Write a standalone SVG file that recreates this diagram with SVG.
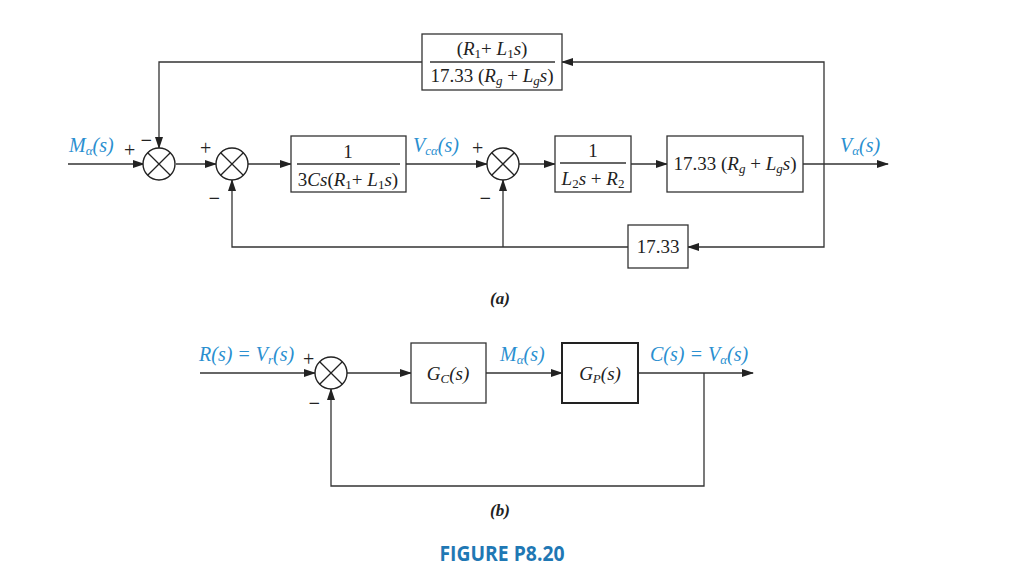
<svg xmlns="http://www.w3.org/2000/svg" width="1024" height="577" viewBox="0 0 1024 577">
<defs>
<marker id="arr" markerWidth="12" markerHeight="8" refX="11" refY="4" orient="auto" markerUnits="userSpaceOnUse">
<path d="M0,0 L12,4 L0,8 Z" fill="#222"/>
</marker>
</defs>
<style>
.ln{fill:none;stroke:#333;stroke-width:1.3}
.box{fill:#fff;stroke:#333;stroke-width:1.3}
.boxb{fill:#fff;stroke:#222;stroke-width:2}
.sum{fill:#fff;stroke:#222;stroke-width:1.4}
.x{stroke:#222;stroke-width:1.3}
.t{font-family:"Liberation Serif",serif;font-size:19px;fill:#222}
.i{font-style:italic}
.b{font-family:"Liberation Serif",serif;font-size:20px;font-style:italic;fill:#2a8fd0}
.s{font-family:"Liberation Serif",serif;font-size:20px;fill:#222}
.m{font-family:"DejaVu Sans",sans-serif;font-size:15px;fill:#222}
.cap{font-family:"Liberation Serif",serif;font-size:17px;font-style:italic;font-weight:bold;fill:#222}
.fig{font-family:"Open Sans","Liberation Sans",sans-serif;font-size:22px;font-weight:bold;fill:#1f78b4}
</style>

<g id="connectors">
<path class="ln" d="M68,164 H144" marker-end="url(#arr)"/>
<path class="ln" d="M176,164 H216" marker-end="url(#arr)"/>
<path class="ln" d="M248,164 H291" marker-end="url(#arr)"/>
<path class="ln" d="M406,164 H487" marker-end="url(#arr)"/>
<path class="ln" d="M519,164 H555" marker-end="url(#arr)"/>
<path class="ln" d="M631,164 H667" marker-end="url(#arr)"/>
<path class="ln" d="M803,164 H888" marker-end="url(#arr)"/>
<path class="ln" d="M824,164 V62 H562" marker-end="url(#arr)"/>
<path class="ln" d="M422,62 H159 V148" marker-end="url(#arr)"/>
<path class="ln" d="M824,164 V247 H688" marker-end="url(#arr)"/>
<path class="ln" d="M628,247 H232 V180" marker-end="url(#arr)"/>
<path class="ln" d="M503,247 V180" marker-end="url(#arr)"/>
<path class="ln" d="M200,373 H315" marker-end="url(#arr)"/>
<path class="ln" d="M347,373 H411" marker-end="url(#arr)"/>
<path class="ln" d="M486,373 H562" marker-end="url(#arr)"/>
<path class="ln" d="M638,373 H753" marker-end="url(#arr)"/>
<path class="ln" d="M704,373 V486 H331 V389" marker-end="url(#arr)"/>
</g>

<g id="sum1">
<circle class="sum" cx="159" cy="164" r="16"/>
<path class="x" d="M147.7,152.7 L170.3,175.3 M170.3,152.7 L147.7,175.3"/>
<text class="s" x="124" y="157">+</text>
<text class="m" x="140" y="145">−</text>
</g>
<g id="sum2">
<circle class="sum" cx="232" cy="164" r="16"/>
<path class="x" d="M220.7,152.7 L243.3,175.3 M243.3,152.7 L220.7,175.3"/>
<text class="s" x="200" y="155">+</text>
<text class="m" x="208" y="203">−</text>
</g>
<g id="sum3">
<circle class="sum" cx="503" cy="164" r="16"/>
<path class="x" d="M491.7,152.7 L514.3,175.3 M514.3,152.7 L491.7,175.3"/>
<text class="s" x="472" y="155">+</text>
<text class="m" x="479" y="203">−</text>
</g>

<g id="labels-a">
<text class="b" x="69" y="152">M<tspan font-size="13" dy="3">α</tspan><tspan dy="-3">(s)</tspan></text>
<text class="b" x="413" y="152">V<tspan font-size="13" dy="3">cα</tspan><tspan dy="-3">(s)</tspan></text>
<text class="b" x="840" y="152">V<tspan font-size="13" dy="3">α</tspan><tspan dy="-3">(s)</tspan></text>
</g>

<g id="box-int">
<rect class="box" x="291" y="136" width="115" height="56"/>
<text class="t" x="348" y="158" text-anchor="middle">1</text>
<path class="ln" d="M297,164 H400"/>
<text class="t" x="348" y="186" text-anchor="middle">3<tspan class="i">Cs</tspan>(<tspan class="i">R</tspan><tspan font-size="13" dy="3">1</tspan><tspan dy="-3">+ </tspan><tspan class="i">L</tspan><tspan font-size="13" dy="3">1</tspan><tspan class="i" dy="-3">s</tspan>)</text>
</g>

<g id="box-fb">
<rect class="box" x="422" y="34" width="140" height="56"/>
<text class="t" x="492" y="55" text-anchor="middle">(<tspan class="i">R</tspan><tspan font-size="13" dy="3">1</tspan><tspan dy="-3">+ </tspan><tspan class="i">L</tspan><tspan font-size="13" dy="3">1</tspan><tspan class="i" dy="-3">s</tspan>)</text>
<path class="ln" d="M430,62 H555"/>
<text class="t" x="492" y="82" text-anchor="middle">17.33 (<tspan class="i">R</tspan><tspan class="i" font-size="13" dy="3">g</tspan><tspan dy="-3"> + </tspan><tspan class="i">L</tspan><tspan class="i" font-size="13" dy="3">g</tspan><tspan class="i" dy="-3">s</tspan>)</text>
</g>

<g id="box-L2">
<rect class="box" x="555" y="136" width="76" height="56"/>
<text class="t" x="593" y="157" text-anchor="middle">1</text>
<path class="ln" d="M560,163 H626"/>
<text class="t" x="593" y="185" text-anchor="middle"><tspan class="i">L</tspan><tspan font-size="13" dy="3">2</tspan><tspan class="i" dy="-3">s</tspan> + <tspan class="i">R</tspan><tspan font-size="13" dy="3">2</tspan></text>
</g>

<g id="box-g">
<rect class="box" x="667" y="136" width="136" height="56"/>
<text class="t" x="735" y="170" text-anchor="middle">17.33 (<tspan class="i">R</tspan><tspan class="i" font-size="13" dy="3">g</tspan><tspan dy="-3"> + </tspan><tspan class="i">L</tspan><tspan class="i" font-size="13" dy="3">g</tspan><tspan class="i" dy="-3">s</tspan>)</text>
</g>

<g id="box-k">
<rect class="box" x="628" y="225" width="60" height="43"/>
<text class="t" x="658" y="253" text-anchor="middle">17.33</text>
</g>

<text class="cap" x="500" y="304" text-anchor="middle">(a)</text>

<g id="sum-b">
<circle class="sum" cx="331" cy="373" r="16"/>
<path class="x" d="M319.7,361.7 L342.3,384.3 M342.3,361.7 L319.7,384.3"/>
<text class="s" x="303" y="366">+</text>
<text class="m" x="308" y="408">−</text>
</g>

<g id="labels-b">
<text class="b" x="199" y="361">R(s) = V<tspan font-size="13" dy="3">r</tspan><tspan dy="-3">(s)</tspan></text>
<text class="b" x="500" y="361">M<tspan font-size="13" dy="3">α</tspan><tspan dy="-3">(s)</tspan></text>
<text class="b" x="650" y="361">C(s) = V<tspan font-size="13" dy="3">α</tspan><tspan dy="-3">(s)</tspan></text>
</g>

<g id="box-gc">
<rect class="box" x="411" y="343" width="75" height="60"/>
<text class="t i" x="448" y="380" text-anchor="middle">G<tspan font-size="13" dy="3">C</tspan><tspan dy="-3">(s)</tspan></text>
</g>

<g id="box-gp">
<rect class="boxb" x="562" y="343" width="76" height="60"/>
<text class="t i" x="600" y="380" text-anchor="middle">G<tspan font-size="13" dy="3">P</tspan><tspan dy="-3">(s)</tspan></text>
</g>

<text class="cap" x="500" y="516" text-anchor="middle">(b)</text>
<text class="fig" x="502" y="561" text-anchor="middle" textLength="125" lengthAdjust="spacingAndGlyphs">FIGURE P8.20</text>
</svg>
